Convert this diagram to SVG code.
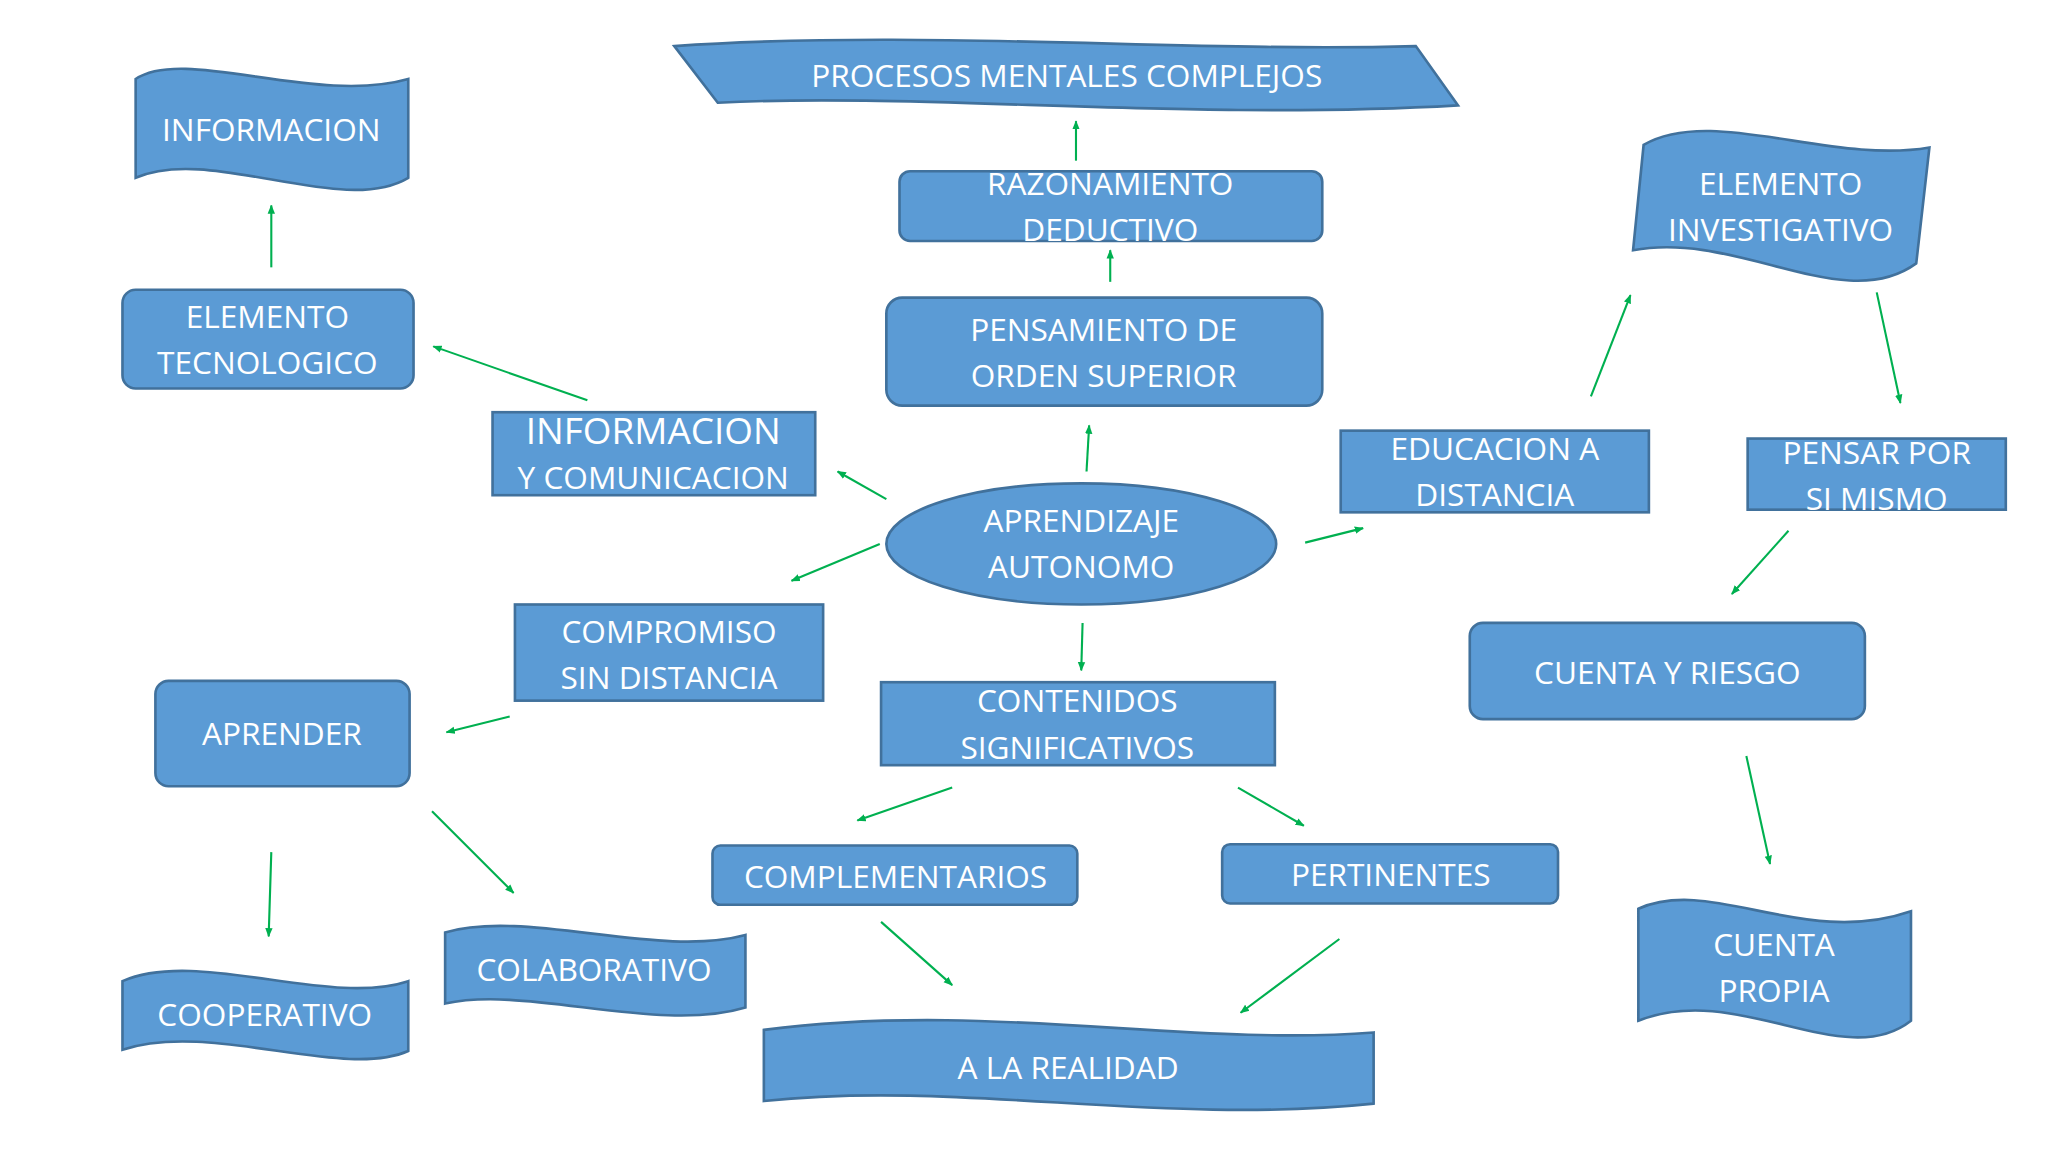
<svg xmlns="http://www.w3.org/2000/svg" width="2048" height="1152" viewBox="0 0 2048 1152">
<defs>
<style>
.n{fill:#5B9BD5;stroke:#41719C;stroke-width:2}
.t{font-family:"Open Sans","Liberation Sans",sans-serif;font-size:24px;fill:#fff;text-anchor:middle}
.c line{stroke:#00B050;stroke-width:1.6;marker-end:url(#a)}
</style>
<marker id="a" viewBox="0 0 10 10" refX="9" refY="5" markerWidth="7" markerHeight="7" orient="auto" markerUnits="userSpaceOnUse"><path d="M0,1 L10,5 L0,9 Z" fill="#00B050"/></marker>
</defs>
<rect width="2048" height="1152" fill="#fff"/>
<g transform="scale(1.317)">
<g id="procesos"><path class="n" d="M512,35 C700,22 900,40 1075,35 L1107,80 C900,92 700,70 545,78 Z"/><text class="t" x="810" y="66">PROCESOS MENTALES COMPLEJOS</text></g>
<g id="razonamiento"><rect class="n" x="683" y="130" width="321" height="53" rx="8"/><text class="t" x="843" y="148">RAZONAMIENTO</text><text class="t" x="843" y="183">DEDUCTIVO</text></g>
<g id="pensamiento"><rect class="n" x="673" y="226" width="331" height="82" rx="12"/><text class="t" x="838" y="259">PENSAMIENTO DE</text><text class="t" x="838" y="294">ORDEN SUPERIOR</text></g>
<g id="informacion"><path class="n" d="M103,60 C140,35 240,80 310,60 L310,135 C260,165 160,110 103,135 Z"/><text class="t" x="206" y="107">INFORMACION</text></g>
<g id="tecnologico"><rect class="n" x="93" y="220" width="221" height="75" rx="10"/><text class="t" x="203" y="249">ELEMENTO</text><text class="t" x="203" y="284">TECNOLOGICO</text></g>
<g id="infocom"><rect class="n" x="374" y="313" width="245" height="63"/><text class="t" x="496" y="337" style="font-size:28px">INFORMACION</text><text class="t" x="496" y="371">Y COMUNICACION</text></g>
<g id="aprendizaje"><ellipse class="n" cx="821" cy="413" rx="148" ry="46"/><text class="t" x="821" y="404">APRENDIZAJE</text><text class="t" x="821" y="439">AUTONOMO</text></g>
<g id="educacion"><rect class="n" x="1018" y="327" width="234" height="62"/><text class="t" x="1135" y="349">EDUCACION A</text><text class="t" x="1135" y="384">DISTANCIA</text></g>
<g id="investigativo"><path class="n" d="M1248,110 C1300,80 1390,125 1465,112 L1455,200 C1400,240 1320,175 1240,190 Z"/><text class="t" x="1352" y="148">ELEMENTO</text><text class="t" x="1352" y="183">INVESTIGATIVO</text></g>
<g id="pensar"><rect class="n" x="1327" y="333" width="196" height="54"/><text class="t" x="1425" y="352">PENSAR POR</text><text class="t" x="1425" y="387">SI MISMO</text></g>
<g id="compromiso"><rect class="n" x="391" y="459" width="234" height="73"/><text class="t" x="508" y="488">COMPROMISO</text><text class="t" x="508" y="523">SIN DISTANCIA</text></g>
<g id="contenidos"><rect class="n" x="669" y="518" width="299" height="63"/><text class="t" x="818" y="541">CONTENIDOS</text><text class="t" x="818" y="576">SIGNIFICATIVOS</text></g>
<g id="cuentariesgo"><rect class="n" x="1116" y="473" width="300" height="73" rx="10"/><text class="t" x="1266" y="519">CUENTA Y RIESGO</text></g>
<g id="aprender"><rect class="n" x="118" y="517" width="193" height="80" rx="10"/><text class="t" x="214" y="566">APRENDER</text></g>
<g id="complementarios"><rect class="n" x="541" y="642" width="277" height="45" rx="6"/><text class="t" x="680" y="674">COMPLEMENTARIOS</text></g>
<g id="pertinentes"><rect class="n" x="928" y="641" width="255" height="45" rx="6"/><text class="t" x="1056" y="673">PERTINENTES</text></g>
<g id="cooperativo"><path class="n" d="M93,745 C150,720 250,765 310,745 L310,798 C260,820 160,775 93,797 Z"/><text class="t" x="201" y="779">COOPERATIVO</text></g>
<g id="colaborativo"><path class="n" d="M338,708 C400,690 500,728 566,710 L566,765 C500,785 400,748 338,762 Z"/><text class="t" x="451" y="745">COLABORATIVO</text></g>
<g id="realidad"><path class="n" d="M580,782 C750,760 900,795 1043,784 L1043,838 C880,855 730,820 580,836 Z"/><text class="t" x="811" y="819">A LA REALIDAD</text></g>
<g id="cuentapropia"><path class="n" d="M1244,690 C1300,665 1370,720 1451,692 L1451,775 C1400,815 1320,745 1244,775 Z"/><text class="t" x="1347" y="726">CUENTA</text><text class="t" x="1347" y="761">PROPIA</text></g>
<g class="c" id="connectors">
<line x1="817" y1="122" x2="817" y2="92"/>
<line x1="843" y1="214" x2="843" y2="190"/>
<line x1="206" y1="203" x2="206" y2="156"/>
<line x1="446" y1="304" x2="329" y2="263"/>
<line x1="825" y1="358" x2="827" y2="323"/>
<line x1="673" y1="379" x2="636" y2="358"/>
<line x1="668" y1="413" x2="601" y2="441"/>
<line x1="991" y1="412" x2="1035" y2="401"/>
<line x1="1208" y1="301" x2="1238" y2="224"/>
<line x1="1425" y1="222" x2="1443" y2="306"/>
<line x1="1358" y1="403" x2="1315" y2="451"/>
<line x1="822" y1="473" x2="821" y2="509"/>
<line x1="387" y1="544" x2="339" y2="556"/>
<line x1="723" y1="598" x2="651" y2="623"/>
<line x1="940" y1="598" x2="990" y2="627"/>
<line x1="1326" y1="574" x2="1344" y2="656"/>
<line x1="206" y1="647" x2="204" y2="711"/>
<line x1="328" y1="616" x2="390" y2="678"/>
<line x1="669" y1="700" x2="723" y2="748"/>
<line x1="1017" y1="713" x2="942" y2="769"/>
</g>
</g>
</svg>
